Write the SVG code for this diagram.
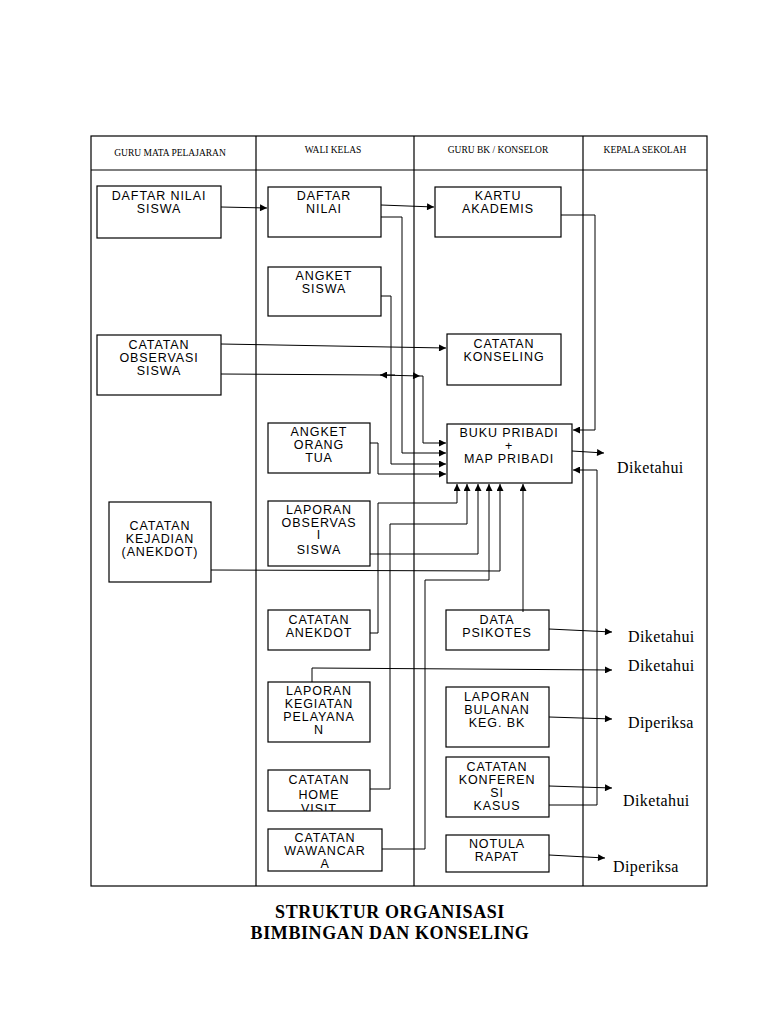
<svg xmlns="http://www.w3.org/2000/svg" width="768" height="1024" viewBox="0 0 768 1024">
<style>
.b{fill:#fff;stroke:#000;stroke-width:1.2}
.t{font-family:"Liberation Sans",Arial,sans-serif;font-size:12.5px;letter-spacing:0.9px;text-anchor:middle;fill:#000}
.h{font-family:"Liberation Serif","Times New Roman",serif;font-size:9.5px;text-anchor:middle}
.d{font-family:"Liberation Serif","Times New Roman",serif;font-size:16px;letter-spacing:0.4px}
.c path{fill:none;stroke:#000;stroke-width:1}
</style>
<defs>
<marker id="a" viewBox="0 0 10 10" refX="10" refY="5" markerWidth="9" markerHeight="7" orient="auto" markerUnits="userSpaceOnUse"><path d="M0,0L10,5L0,10z" fill="#000"/></marker>
<clipPath id="hv"><rect x="268" y="770" width="102" height="41"/></clipPath>
<clipPath id="ww"><rect x="268" y="829" width="114" height="42"/></clipPath>
</defs>
<rect width="768" height="1024" fill="#fff"/>
<g id="table" fill="none" stroke="#000" stroke-width="1.2">
<rect x="91" y="136" width="616" height="750"/>
<path d="M91,170H707M256,136V886M414,136V886M583,136V886"/>
</g>
<g id="headers">
<text class="h" x="170" y="156">GURU MATA PELAJARAN</text>
<text class="h" x="333" y="153">WALI KELAS</text>
<text class="h" x="498" y="153">GURU BK / KONSELOR</text>
<text class="h" x="645" y="153">KEPALA SEKOLAH</text>
</g>
<g id="n1"><rect class="b" x="97" y="186" width="124" height="52"/><text class="t" x="159" y="200">DAFTAR NILAI</text><text class="t" x="159" y="213">SISWA</text></g>
<g id="n2"><rect class="b" x="268" y="187" width="113" height="50"/><text class="t" x="324" y="200">DAFTAR</text><text class="t" x="324" y="213">NILAI</text></g>
<g id="n3"><rect class="b" x="435" y="187" width="126" height="50"/><text class="t" x="498" y="200">KARTU</text><text class="t" x="498" y="213">AKADEMIS</text></g>
<g id="n4"><rect class="b" x="268" y="267" width="113" height="49"/><text class="t" x="324" y="280">ANGKET</text><text class="t" x="324" y="293">SISWA</text></g>
<g id="n5"><rect class="b" x="97" y="335" width="124" height="60"/><text class="t" x="159" y="349">CATATAN</text><text class="t" x="159" y="362">OBSERVASI</text><text class="t" x="159" y="375">SISWA</text></g>
<g id="n6"><rect class="b" x="447" y="334" width="114" height="51"/><text class="t" x="504" y="348">CATATAN</text><text class="t" x="504" y="361">KONSELING</text></g>
<g id="n7"><rect class="b" x="268" y="423" width="102" height="50"/><text class="t" x="319" y="436">ANGKET</text><text class="t" x="319" y="449">ORANG</text><text class="t" x="319" y="462">TUA</text></g>
<g id="n8"><rect class="b" x="447" y="424" width="125" height="59"/><text class="t" x="509" y="437">BUKU PRIBADI</text><text class="t" x="509" y="450">+</text><text class="t" x="509" y="463">MAP PRIBADI</text></g>
<g id="n9"><rect class="b" x="268" y="501" width="102" height="65"/><text class="t" x="319" y="514">LAPORAN</text><text class="t" x="319" y="527">OBSERVAS</text><text class="t" x="319" y="539">I</text><text class="t" x="319" y="554">SISWA</text></g>
<g id="n10"><rect class="b" x="109" y="502" width="102" height="80"/><text class="t" x="160" y="530">CATATAN</text><text class="t" x="160" y="543">KEJADIAN</text><text class="t" x="160" y="556">(ANEKDOT)</text></g>
<g id="n11"><rect class="b" x="268" y="610" width="102" height="40"/><text class="t" x="319" y="624">CATATAN</text><text class="t" x="319" y="637">ANEKDOT</text></g>
<g id="n12"><rect class="b" x="446" y="610" width="103" height="40"/><text class="t" x="497" y="624">DATA</text><text class="t" x="497" y="637">PSIKOTES</text></g>
<g id="n13"><rect class="b" x="268" y="682" width="102" height="60"/><text class="t" x="319" y="695">LAPORAN</text><text class="t" x="319" y="708">KEGIATAN</text><text class="t" x="319" y="721">PELAYANA</text><text class="t" x="319" y="734">N</text></g>
<g id="n14"><rect class="b" x="446" y="687" width="103" height="60"/><text class="t" x="497" y="701">LAPORAN</text><text class="t" x="497" y="714">BULANAN</text><text class="t" x="497" y="727">KEG. BK</text></g>
<g id="n15"><rect class="b" x="268" y="770" width="102" height="41"/><g clip-path="url(#hv)"><text class="t" x="319" y="784">CATATAN</text><text class="t" x="319" y="799">HOME</text><text class="t" x="319" y="813">VISIT</text></g></g>
<g id="n16"><rect class="b" x="446" y="757" width="103" height="60"/><text class="t" x="497" y="771">CATATAN</text><text class="t" x="497" y="784">KONFEREN</text><text class="t" x="497" y="797">SI</text><text class="t" x="497" y="810">KASUS</text></g>
<g id="n17"><rect class="b" x="268" y="829" width="114" height="42"/><g clip-path="url(#ww)"><text class="t" x="325" y="842">CATATAN</text><text class="t" x="325" y="855">WAWANCAR</text><text class="t" x="325" y="868">A</text></g></g>
<g id="n18"><rect class="b" x="446" y="835" width="103" height="37"/><text class="t" x="497" y="848">NOTULA</text><text class="t" x="497" y="861">RAPAT</text></g>
<g id="labels">
<text class="d" x="617" y="473">Diketahui</text>
<text class="d" x="628" y="642">Diketahui</text>
<text class="d" x="628" y="671">Diketahui</text>
<text class="d" x="628" y="728">Diperiksa</text>
<text class="d" x="623" y="806">Diketahui</text>
<text class="d" x="613" y="872">Diperiksa</text>
</g>
<g class="c" id="connectors">
<path d="M221,207L267,208" marker-end="url(#a)"/>
<path d="M381,205L434,207" marker-end="url(#a)"/>
<path d="M381,217H402V453H446" marker-end="url(#a)"/>
<path d="M381,296H391V464H446" marker-end="url(#a)"/>
<path d="M221,344L446,348" marker-end="url(#a)"/>
<path d="M221,374L380,375"/>
<path d="M395,375L380,375" marker-end="url(#a)"/>
<path d="M380,375L420,376" marker-end="url(#a)"/>
<path d="M420,376H423V443H446" marker-end="url(#a)"/>
<path d="M370,443H378V474H446" marker-end="url(#a)"/>
<path d="M561,215H595V430H573" marker-end="url(#a)"/>
<path d="M572,451L604,453" marker-end="url(#a)"/>
<path d="M549,805H597V470H573" marker-end="url(#a)"/>
<path d="M370,633H378V503H457V484" marker-end="url(#a)"/>
<path d="M370,789H390V524H467V484" marker-end="url(#a)"/>
<path d="M370,554H478V484" marker-end="url(#a)"/>
<path d="M382,849H425V580H489V484" marker-end="url(#a)"/>
<path d="M211,570L500,571V484" marker-end="url(#a)"/>
<path d="M523,612V484" marker-end="url(#a)"/>
<path d="M549,629L612,632" marker-end="url(#a)"/>
<path d="M312,682V668L612,670" marker-end="url(#a)"/>
<path d="M549,717L612,719" marker-end="url(#a)"/>
<path d="M549,786L612,788" marker-end="url(#a)"/>
<path d="M549,855L605,858" marker-end="url(#a)"/>
</g>
<g id="title" font-family="Liberation Serif,'Times New Roman',serif" font-weight="bold" font-size="18" letter-spacing="0.6" text-anchor="middle">
<text x="390" y="918">STRUKTUR ORGANISASI</text>
<text x="390" y="939">BIMBINGAN DAN KONSELING</text>
</g>
</svg>
